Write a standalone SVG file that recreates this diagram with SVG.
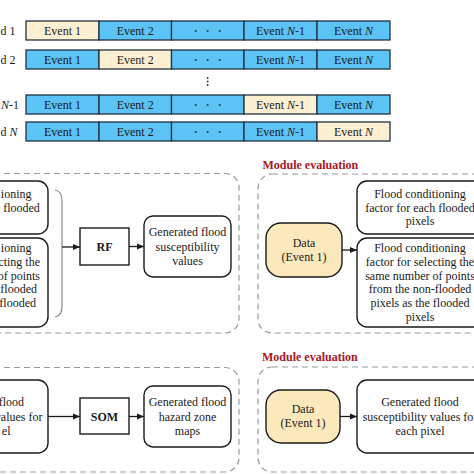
<svg xmlns="http://www.w3.org/2000/svg" width="474" height="474" viewBox="0 0 474 474">
<defs>
<style>
text{font-family:"Liberation Serif","Times New Roman",serif;font-size:12px;fill:#1a1a1a}
.c{text-anchor:middle}
.e{text-anchor:end}
.b{font-weight:bold}
.red{fill:#a8161f;font-weight:bold}
.blue{fill:#5bc3f5;stroke:#23313f;stroke-width:1.3}
.cream{fill:#fdf0d2;stroke:#23313f;stroke-width:1.3}
.box{fill:#fff;stroke:#1a1a1a;stroke-width:1.4}
.data{fill:#fbe9bb;stroke:#1a1a1a;stroke-width:1.4}
.dash{fill:none;stroke:#9a9a9a;stroke-width:1.2;stroke-dasharray:6 4}
.ln{fill:none;stroke:#1a1a1a;stroke-width:1.3}
.dot{fill:#333}
</style>
<marker id="ah" markerWidth="8" markerHeight="8" refX="7" refY="4" orient="auto" markerUnits="userSpaceOnUse">
<path d="M0,1 L7,4 L0,7 Z" fill="#1a1a1a"/>
</marker>
</defs>

<!-- Top rows -->
<g id="row1">
<text x="0.5" y="34.5" font-size="11">d 1</text>
<rect x="26" y="21" width="73" height="19" class="cream"/>
<rect x="99" y="21" width="72.5" height="19" class="blue"/>
<rect x="171.5" y="21" width="72.5" height="19" class="blue"/>
<rect x="244" y="21" width="73" height="19" class="blue"/>
<rect x="317" y="21" width="73" height="19" class="blue"/>
<text x="62.5" y="34.5" class="c">Event 1</text>
<text x="135.2" y="34.5" class="c">Event 2</text>
<circle cx="195.7" cy="31" r="1" class="dot"/><circle cx="207.7" cy="31" r="1" class="dot"/><circle cx="219.7" cy="31" r="1" class="dot"/>
<text x="280.5" y="34.5" class="c">Event <tspan font-style="italic">N</tspan>-1</text>
<text x="353.5" y="34.5" class="c">Event <tspan font-style="italic">N</tspan></text>
</g>
<g id="row2">
<text x="0.5" y="63.5" font-size="11">d 2</text>
<rect x="26" y="50" width="73" height="19" class="blue"/>
<rect x="99" y="50" width="72.5" height="19" class="cream"/>
<rect x="171.5" y="50" width="72.5" height="19" class="blue"/>
<rect x="244" y="50" width="73" height="19" class="blue"/>
<rect x="317" y="50" width="73" height="19" class="blue"/>
<text x="62.5" y="63.5" class="c">Event 1</text>
<text x="135.2" y="63.5" class="c">Event 2</text>
<circle cx="195.7" cy="60" r="1" class="dot"/><circle cx="207.7" cy="60" r="1" class="dot"/><circle cx="219.7" cy="60" r="1" class="dot"/>
<text x="280.5" y="63.5" class="c">Event <tspan font-style="italic">N</tspan>-1</text>
<text x="353.5" y="63.5" class="c">Event <tspan font-style="italic">N</tspan></text>
</g>
<g id="vdots">
<circle cx="207.7" cy="78" r="0.9" class="dot"/><circle cx="207.7" cy="81.5" r="0.9" class="dot"/><circle cx="207.7" cy="85" r="0.9" class="dot"/>
</g>
<g id="row3">
<text x="1" y="108.5" font-size="11"><tspan font-style="italic">N</tspan>-1</text>
<rect x="26" y="95" width="73" height="19" class="blue"/>
<rect x="99" y="95" width="72.5" height="19" class="blue"/>
<rect x="171.5" y="95" width="72.5" height="19" class="blue"/>
<rect x="244" y="95" width="73" height="19" class="cream"/>
<rect x="317" y="95" width="73" height="19" class="blue"/>
<text x="62.5" y="108.5" class="c">Event 1</text>
<text x="135.2" y="108.5" class="c">Event 2</text>
<circle cx="195.7" cy="105" r="1" class="dot"/><circle cx="207.7" cy="105" r="1" class="dot"/><circle cx="219.7" cy="105" r="1" class="dot"/>
<text x="280.5" y="108.5" class="c">Event <tspan font-style="italic">N</tspan>-1</text>
<text x="353.5" y="108.5" class="c">Event <tspan font-style="italic">N</tspan></text>
</g>
<g id="row4">
<text x="0.5" y="135.5" font-size="11">d <tspan font-style="italic">N</tspan></text>
<rect x="26" y="122" width="73" height="19" class="blue"/>
<rect x="99" y="122" width="72.5" height="19" class="blue"/>
<rect x="171.5" y="122" width="72.5" height="19" class="blue"/>
<rect x="244" y="122" width="73" height="19" class="blue"/>
<rect x="317" y="122" width="73" height="19" class="cream"/>
<text x="62.5" y="135.5" class="c">Event 1</text>
<text x="135.2" y="135.5" class="c">Event 2</text>
<circle cx="195.7" cy="132" r="1" class="dot"/><circle cx="207.7" cy="132" r="1" class="dot"/><circle cx="219.7" cy="132" r="1" class="dot"/>
<text x="280.5" y="135.5" class="c">Event <tspan font-style="italic">N</tspan>-1</text>
<text x="353.5" y="135.5" class="c">Event <tspan font-style="italic">N</tspan></text>
</g>

<!-- Module frames -->
<g id="frames">
<rect x="-20" y="173.5" width="259" height="159.5" rx="14" class="dash"/>
<rect x="258" y="174" width="240" height="159" rx="14" class="dash"/>
<rect x="-20" y="367.5" width="259" height="104.5" rx="14" class="dash"/>
<rect x="258" y="367" width="240" height="105" rx="14" class="dash"/>
<text x="262.5" y="169" class="red">Module evaluation</text>
<text x="262" y="361" class="red">Module evaluation</text>
</g>

<!-- Middle left module -->
<g id="mlbox1">
<rect x="-78" y="181" width="126" height="53" rx="10" class="box"/>
<text x="31.5" y="198" class="e">ioning</text>
<text x="39.8" y="211.5" class="e">flooded</text>
</g>
<g id="mlbox2">
<rect x="-78" y="238" width="126" height="89" rx="10" class="box"/>
<text x="31.5" y="252" class="e">ioning</text>
<text x="40" y="266" class="e">cting the</text>
<text x="40" y="279.6" class="e">of points</text>
<text x="37" y="293.4" class="e">flooded</text>
<text x="36" y="307" class="e">flooded</text>
</g>
<g id="rf">
<rect x="80" y="228" width="49" height="37" class="box"/>
<text x="104.5" y="250.8" class="c b">RF</text>
</g>
<g id="gen1">
<rect x="144" y="216" width="87" height="61" rx="9" class="box"/>
<text x="187.5" y="236" class="c">Generated flood</text>
<text x="187.5" y="250.5" class="c">susceptibility</text>
<text x="187.5" y="265" class="c">values</text>
</g>

<!-- Middle right module -->
<g id="data1">
<rect x="266" y="223" width="76" height="54" rx="15" class="data"/>
<text x="304" y="247" class="c">Data</text>
<text x="304" y="261" class="c">(Event 1)</text>
</g>
<g id="mrbox1">
<rect x="357" y="181" width="126" height="53" rx="10" class="box"/>
<text x="420" y="198" class="c">Flood conditioning</text>
<text x="420" y="211.5" class="c">factor for each flooded</text>
<text x="420" y="225" class="c">pixels</text>
</g>
<g id="mrbox2">
<rect x="357" y="238" width="126" height="89" rx="10" class="box"/>
<text x="420" y="252" class="c">Flood conditioning</text>
<text x="420" y="266" class="c">factor for selecting the</text>
<text x="420" y="279.6" class="c">same number of points</text>
<text x="420" y="293.4" class="c">from the non-flooded</text>
<text x="420" y="307" class="c">pixels as the flooded</text>
<text x="420" y="321" class="c">pixels</text>
</g>

<!-- Bottom left module -->
<g id="blbox">
<rect x="-78" y="380" width="126" height="73" rx="10" class="box"/>
<text x="24" y="406" class="e">flood</text>
<text x="42.5" y="420.5" class="e">values for</text>
<text x="10.5" y="435" class="e">el</text>
</g>
<g id="som">
<rect x="80" y="398" width="49" height="36" class="box"/>
<text x="104.5" y="420.5" class="c b">SOM</text>
</g>
<g id="gen2">
<rect x="144" y="386" width="87" height="61" rx="9" class="box"/>
<text x="187.5" y="406" class="c">Generated flood</text>
<text x="187.5" y="420.5" class="c">hazard zone</text>
<text x="187.5" y="435" class="c">maps</text>
</g>

<!-- Bottom right module -->
<g id="data2">
<rect x="266" y="390" width="74" height="53" rx="15" class="data"/>
<text x="303" y="413" class="c">Data</text>
<text x="303" y="427" class="c">(Event 1)</text>
</g>
<g id="brbox">
<rect x="357" y="380" width="126" height="73" rx="10" class="box"/>
<text x="420" y="406" class="c">Generated flood</text>
<text x="420" y="420.5" class="c">susceptibility values for</text>
<text x="420" y="435" class="c">each pixel</text>
</g>

<!-- Connectors -->
<g id="connectors">
<path d="M55,190 Q62,191 62,201 L62,306 Q62,316 55,317" fill="none" stroke="#8a8a8a" stroke-width="1.2"/>
<line x1="62" y1="247" x2="80" y2="247" class="ln" marker-end="url(#ah)"/>
<line x1="129" y1="246.5" x2="144" y2="246.5" class="ln" marker-end="url(#ah)"/>
<line x1="342" y1="250" x2="357" y2="250" class="ln" marker-end="url(#ah)"/>
<line x1="48" y1="416.5" x2="80" y2="416.5" class="ln" marker-end="url(#ah)"/>
<line x1="129" y1="416.5" x2="144" y2="416.5" class="ln" marker-end="url(#ah)"/>
<line x1="340" y1="416.5" x2="357" y2="416.5" class="ln" marker-end="url(#ah)"/>
</g>
</svg>
